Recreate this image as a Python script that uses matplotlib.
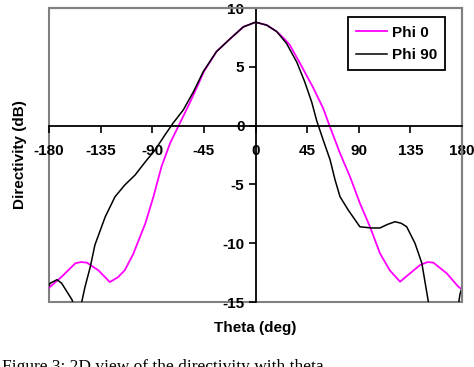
import matplotlib.pyplot as plt
from matplotlib.patches import Rectangle

plt.rcParams['font.family'] = ['Liberation Sans', 'DejaVu Sans']
plt.rcParams['axes.unicode_minus'] = False

# Phi 0 cut (magenta)
theta_phi0 = [-180, -179, -169, -157, -152, -147, -137, -127, -120, -114,
              -106.5, -96, -89, -82, -74.5, -67, -57, -50, -45, -34, -22,
              -10.6, 0, 9.8, 18.5, 25, 30, 38.8, 50.4, 59, 64.5, 73.7, 82.4,
              91, 99.8, 108.5, 117, 126, 134.7, 143.5, 150, 155, 166.7,
              176.8, 180]
dir_phi0 = [-13.8, -13.7, -12.85, -11.7, -11.6, -11.65, -12.3, -13.3, -12.9,
            -12.3, -10.9, -8.3, -6.05, -3.5, -1.5, 0.0, 2.0, 3.5, 4.6, 6.3,
            7.4, 8.4, 8.8, 8.55, 8.0, 7.4, 6.85, 5.3, 3.2, 1.47, 0.0, -2.36,
            -4.35, -6.6, -8.6, -10.86, -12.3, -13.27, -12.56, -11.85, -11.6,
            -11.65, -12.56, -13.7, -13.9]

# Phi 90 cut (black)
theta_phi90 = [-180, -179, -173, -169, -160, -156, -153, -151.5, -148.6, -144,
               -140, -131, -122.5, -114, -105, -96, -87.6, -79, -72, -63, -54,
               -45.5, -34, -22, -10.6, 0, 9.8, 18.5, 27, 36, 43, 49, 53.4, 59,
               65, 69.3, 73.7, 81, 91, 101, 108.5, 115, 121.6, 127, 131.8, 139,
               145, 150.7, 155, 165, 174, 178.3, 180]
dir_phi90 = [-13.6, -13.4, -13.1, -13.4, -14.8, -16.0, -15.8, -15.0, -13.7,
             -12.0, -10.15, -7.75, -6.05, -5.05, -4.2, -3.07, -2.07, -0.8, 0.2,
             1.33, 2.9, 4.6, 6.3, 7.4, 8.4, 8.8, 8.55, 8.0, 7.0, 5.4, 3.7, 2.0,
             0.4, -1.22, -2.9, -4.6, -6.05, -7.2, -8.6, -8.7, -8.7, -8.4, -8.17,
             -8.3, -8.6, -10.0, -11.7, -15.0, -18.0, -20.0, -17.0, -14.3, -13.8]

xticks = [-180, -135, -90, -45, 0, 45, 90, 135, 180]
yticks = [-15, -10, -5, 0, 5, 10]

fig = plt.figure(figsize=(4.74, 3.67), dpi=100)
ax = fig.add_axes([0.1034, 0.177, 0.8713, 0.801])

ax.plot(theta_phi0, dir_phi0, color='#ff00ff', lw=1.3, label='Phi 0')
ax.plot(theta_phi90, dir_phi90, color='black', lw=1.1, label='Phi 90')

ax.set_xlim(-180, 180)
ax.set_ylim(-15, 10)

# axes through zero, grey frame around plot area
ax.spines['left'].set_position('zero')
ax.spines['bottom'].set_position('zero')
ax.spines['left'].set_color('black')
ax.spines['bottom'].set_color('black')
ax.spines['left'].set_linewidth(1.3)
ax.spines['bottom'].set_linewidth(1.3)
for s in ['top', 'right']:
    ax.spines[s].set_color('#808080')
    ax.spines[s].set_linewidth(1.5)
ax.add_patch(Rectangle((0, 0), 1, 1, transform=ax.transAxes, fill=False,
                       edgecolor='#808080', lw=1.5, clip_on=False, zorder=0))

ax.set_xticks(xticks)
ax.set_yticks(yticks)
ax.tick_params(axis='x', direction='out', length=5, width=1.2, pad=8,
               labelsize=11)
ax.tick_params(axis='y', direction='out', length=5, width=1.2, pad=3,
               labelsize=11)
for lab in ax.get_xticklabels() + ax.get_yticklabels():
    lab.set_fontweight('bold')

leg = ax.legend(loc='upper left', bbox_to_anchor=(0.724, 0.969),
                fancybox=False, framealpha=1, edgecolor='black',
                prop={'weight': 'bold', 'size': 11}, handlelength=2.0,
                handletextpad=0.3, labelspacing=0.55, borderaxespad=0,
                borderpad=0.55)
leg.get_frame().set_linewidth(1.3)

fig.text(20 / 474, 1 - 155 / 367, 'Directivity (dB)', rotation=90,
         ha='center', va='center', fontsize=11, fontweight='bold')
fig.text(255 / 474, 1 - 328 / 367, 'Theta (deg)', ha='center', va='center',
         fontsize=11, fontweight='bold')
# caption sits at the bottom edge, partly cut off as in the source image
fig.text(2 / 474, -4 / 367, 'Figure 3: 2D view of the directivity with theta',
         ha='left', va='baseline', fontsize=12.5,
         family=['Liberation Serif', 'DejaVu Serif'])

fig.savefig('out.png', dpi=100)
